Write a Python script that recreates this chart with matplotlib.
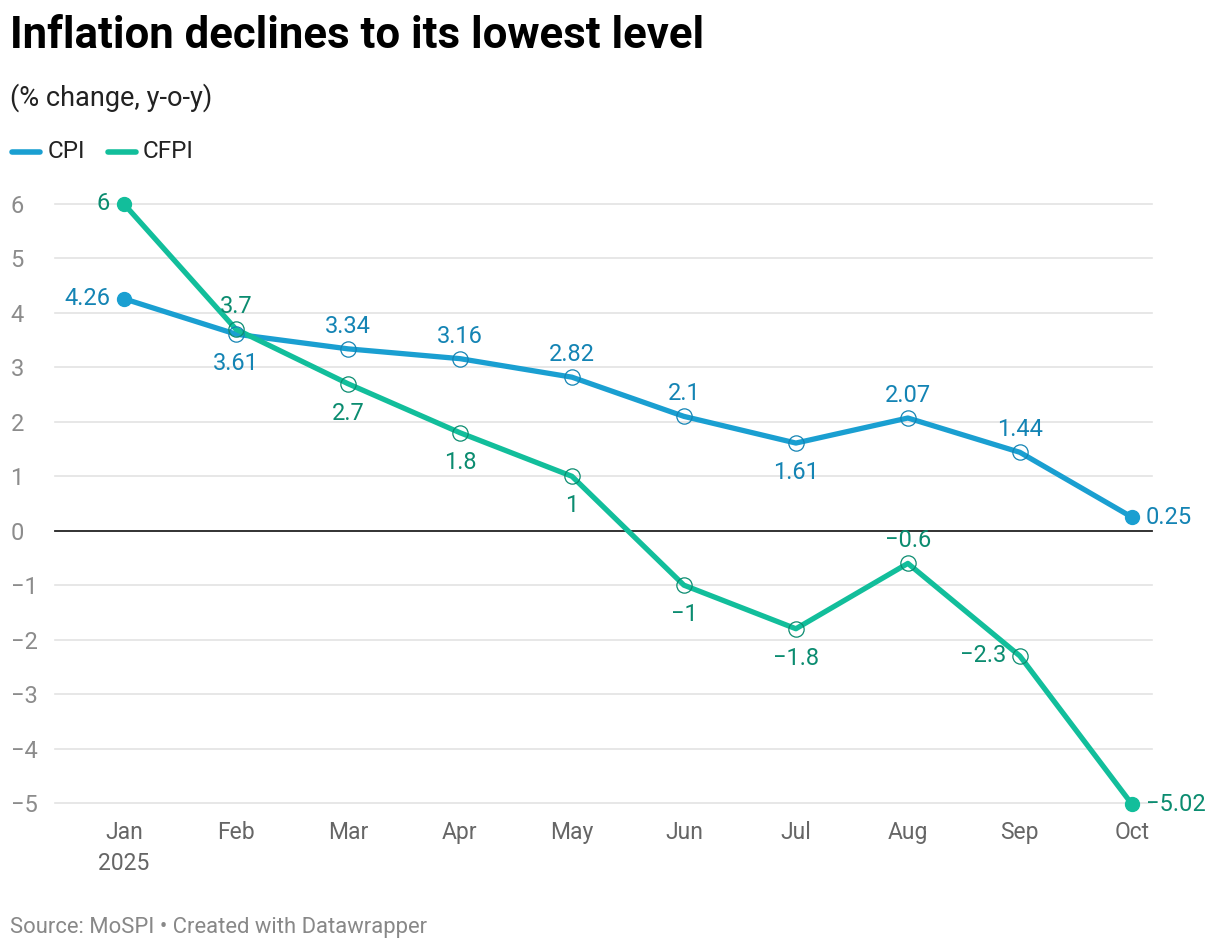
import matplotlib
matplotlib.use("Agg")
import matplotlib.pyplot as plt
from matplotlib.transforms import offset_copy

months = ["Jan", "Feb", "Mar", "Apr", "May", "Jun", "Jul", "Aug", "Sep", "Oct"]
cpi = [4.26, 3.61, 3.34, 3.16, 2.82, 2.1, 1.61, 2.07, 1.44, 0.25]
cfpi = [6, 3.7, 2.7, 1.8, 1, -1, -1.8, -0.6, -2.3, -5.02]
cpi_pos = ["left", "below", "above", "above", "above", "above", "below", "above", "above", "right"]
cfpi_pos = ["left", "above", "below", "below", "below", "below", "below", "above", "left", "right"]
yticks = [-5, -4, -3, -2, -1, 0, 1, 2, 3, 4, 5, 6]

plt.rcParams['font.family'] = ['Roboto', 'DejaVu Sans']

CPI_LINE = "#1a9fd1"
CPI_TEXT = "#1484b4"
CFPI_LINE = "#12be9b"
CFPI_TEXT = "#0b8c70"

W, H = 1220, 950
fig = plt.figure(figsize=(W / 100, H / 100), dpi=100)
left, right, top, bottom = 55, 1152, 204, 803
ax = fig.add_axes([left / W, 1 - bottom / H, (right - left) / W, (bottom - top) / H])

x = list(range(len(months)))
ax.set_xlim(-0.616, 9.18)
ax.set_ylim(-5, 6)

for v in yticks:
    if v == 0:
        ax.axhline(0, color="#222222", lw=1.3, zorder=2, clip_on=False)
    else:
        ax.axhline(v, color="#e3e3e3", lw=1.2, zorder=1, clip_on=False)

for s in ax.spines.values():
    s.set_visible(False)

ax.set_yticks(yticks)
ax.set_yticklabels([str(v).replace("-", "\u2212") for v in yticks], fontsize=17, color="#8c8c8c")
ax.tick_params(axis="y", length=0, pad=32)
for lab in ax.get_yticklabels():
    lab.set_horizontalalignment("left")

ax.set_xticks(x)
xl = [m if i else m + "\n2025" for i, m in enumerate(months)]
ax.set_xticklabels(xl, fontsize=16.5, color="#666666", linespacing=1.45, va="top")
ax.tick_params(axis="x", length=0, pad=13)


def draw(series, lc, tc, pos):
    ax.plot(x, series, color=lc, lw=3.8, zorder=3, solid_capstyle="round", solid_joinstyle="round", clip_on=False)
    ax.plot(x[1:-1], series[1:-1], ls="none", marker="o", ms=11, mfc="none", mec=tc, mew=0.9, zorder=4, clip_on=False)
    ax.plot([x[0], x[-1]], [series[0], series[-1]], ls="none", marker="o", ms=10, mfc=lc, mec=lc, zorder=4, clip_on=False)
    for xi, v, p in zip(x, series, pos):
        t = ("%g" % v).replace("-", "\u2212")
        if p == "above":
            kw = dict(ha="center", va="bottom"); dx, dy = 0, 8
        elif p == "below":
            kw = dict(ha="center", va="top"); dx, dy = 0, -13
        elif p == "left":
            kw = dict(ha="right", va="center"); dx, dy = -10, 0
        else:
            kw = dict(ha="left", va="center"); dx, dy = 10, 0
        tr = offset_copy(ax.transData, fig=fig, x=dx, y=dy, units="points")
        ax.text(xi, v, t, transform=tr, fontsize=17, color=tc, zorder=5, **kw)


draw(cpi, CPI_LINE, CPI_TEXT, cpi_pos)
draw(cfpi, CFPI_LINE, CFPI_TEXT, cfpi_pos)

fig.text(10 / W, 1 - 36 / H, "Inflation declines to its lowest level", fontsize=31.5, fontweight="bold",
         color="#000000", va="center", ha="left")
fig.text(10 / W, 1 - 98 / H, "(% change, y-o-y)", fontsize=19.5, color="#222222", va="center", ha="left")

# legend
ly = 1 - 152 / H
fig.add_artist(plt.Line2D([12 / W, 40 / W], [ly, ly], color=CPI_LINE, lw=4, solid_capstyle="round"))
fig.text(48 / W, ly, "CPI", fontsize=17.5, color="#222222", va="center", ha="left")
fig.add_artist(plt.Line2D([108 / W, 136 / W], [ly, ly], color=CFPI_LINE, lw=4, solid_capstyle="round"))
fig.text(143 / W, ly, "CFPI", fontsize=17.5, color="#222222", va="center", ha="left")

fig.text(10 / W, 1 - 927 / H, "Source: MoSPI \u2022 Created with Datawrapper", fontsize=15.8,
         color="#888888", va="center", ha="left")

fig.savefig("out.png", dpi=100, facecolor="white")
